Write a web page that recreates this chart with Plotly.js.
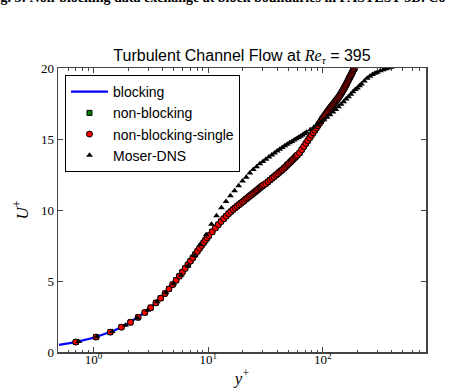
<!DOCTYPE html>
<html>
<head>
<meta charset="utf-8">
<script src="https://cdn.plot.ly/plotly-3.0.1.min.js"></script>
<style>html,body{margin:0;padding:0;background:#fff;}#chart{width:474px;height:388px;}</style>
</head>
<body>
<div id="chart"></div>
<script>
// ---- Data ----
// Simulation (non-blocking and non-blocking-single overlap exactly)
const simYPlus = [0.7,1.05,1.4,1.75,2.1,2.45,2.8,3.15,3.5,3.85,4.2,4.55,4.9,5.25,5.6,5.95,6.3,6.65,7.0,7.35,7.7,8.05,8.4,8.75,9.1,9.45,9.8,10.15,
10.85,11.55,12.25,12.95,13.65,14.35,15.05,15.75,16.45,17.15,17.85,18.55,19.25,19.95,20.65,21.35,22.05,22.75,23.45,24.15,24.85,25.55,26.25,26.95,27.65,28.35,29.05,29.75,30.45,
31.85,33.25,34.65,36.05,37.45,38.85,40.25,41.65,43.05,44.45,45.85,47.25,48.65,50.05,51.45,52.85,54.25,55.65,57.05,58.45,59.85,
62.65,65.45,68.25,71.05,73.85,76.65,79.45,82.25,85.05,87.85,90.65,93.45,96.25,99.05,
101.15,103.25,105.35,107.45,109.55,111.65,113.75,115.85,117.95,120.05,122.15,124.25,126.35,128.45,130.55,132.65,134.75,136.85,138.95,141.05,143.15,145.25,147.35,149.45,151.55,153.65,155.75,157.85,159.95,162.05,164.15,166.25,168.35,170.45,172.55,174.65,176.75,178.85,180.95,183.05,185.15,187.25,189.35,191.45,193.55,195.65,197.75,199.85];
const nonBlockingU = [0.70,1.05,1.40,1.75,2.09,2.44,2.78,3.12,3.46,3.79,4.12,4.44,4.75,5.05,5.34,5.62,5.89,6.15,6.40,6.64,6.87,7.09,7.30,7.50,7.69,7.87,8.04,8.20,
8.47,8.73,8.97,9.19,9.39,9.57,9.74,9.89,10.03,10.15,10.26,10.37,10.47,10.57,10.67,10.77,10.86,10.95,11.03,11.11,11.19,11.27,11.35,11.42,11.50,11.57,11.64,11.70,11.77,
11.86,11.99,12.11,12.23,12.34,12.45,12.55,12.65,12.75,12.84,12.94,13.04,13.15,13.24,13.34,13.43,13.52,13.61,13.70,13.78,13.87,
14.02,14.25,14.47,14.68,14.88,15.07,15.26,15.44,15.61,15.78,15.95,16.10,16.26,16.41,
16.51,16.61,16.71,16.81,16.91,17.00,17.09,17.17,17.25,17.33,17.41,17.48,17.56,17.63,17.70,17.77,17.84,17.91,17.99,18.07,18.16,18.24,18.33,18.41,18.50,18.58,18.67,18.75,18.84,18.93,19.03,19.12,19.21,19.29,19.37,19.45,19.53,19.61,19.70,19.78,19.87,19.95,20.04,20.12,20.21,20.29,20.38,20.46];
const nonBlockingSingleU = nonBlockingU; // identical to non-blocking in the picture

// Blocking (line)
const blockingYPlus = [0.5,0.7,1,1.5,2,3,4,5,6,7,8,9,10,12,14,16,18,20,23,26,30,35,40,46,52,58,63,70,77,85,93,100,110,120,130,140,150,160,170,180,190,200];
const blockingU = [0.5,0.70,1.0,1.5,1.99,2.97,3.93,4.85,5.66,6.40,7.06,7.63,8.13,8.89,9.48,9.94,10.28,10.58,10.98,11.32,11.73,12.17,12.53,12.95,13.38,13.76,14.05,14.61,15.09,15.55,16.0,16.38,16.85,17.25,17.6,17.95,18.35,18.75,19.17,19.57,19.97,20.37];

// Moser DNS
const dnsYPlus = [0.743,1.07,1.456,1.90,2.41,2.97,3.59,4.28,5.01,5.81,6.67,7.59,8.56,9.60,10.69,11.83,13.05,14.31,15.63,17.00,18.44,19.94,21.49,23.09,24.76,26.48,28.25,30.07,31.95,33.88,35.87,37.9,39.99,42.13,44.33,46.6,
48.96,51.31,53.73,56.2,58.71,61.28,63.91,66.57,69.29,72.06,77.73,83.6,89.66,95.9,102.3,108.9,115.7,122.6,129.7,137.0,144.4,152.0,159.7,167.6,175.5,183.7,191.9,200.3,208.8,217.4,230.5,243.8,257.4,271.1,285.0,299.0,317.9,337.0,356.3,375.6,395.0];
const dnsU = [0.74,1.07,1.45,1.89,2.39,2.94,3.53,4.18,4.80,5.40,6.05,6.80,7.55,8.25,9.00,9.60,10.15,10.60,11.00,11.35,11.70,12.05,12.30,12.60,12.85,13.05,13.25,13.42,13.58,13.73,13.88,14.02,14.15,14.28,14.41,14.53,
14.63,14.73,14.83,14.93,15.02,15.11,15.20,15.29,15.38,15.47,15.65,15.83,16.00,16.18,16.35,16.53,16.71,16.90,17.08,17.27,17.45,17.63,17.81,17.98,18.15,18.32,18.48,18.60,18.75,18.88,19.08,19.27,19.42,19.54,19.63,19.70,19.80,19.88,19.95,20.00,20.05];

const xTickVals = [1, 10, 100];
const xTickText = ['10<sup>0</sup>', '10<sup>1</sup>', '10<sup>2</sup>'];
const xMinorVals = [0.6,0.7,0.8,0.9,2,3,4,5,6,7,8,9,20,30,40,50,60,70,80,90,200,300,400,500,600,700];
const yTickVals = [0, 5, 10, 15, 20];

// ---- Chart ----
const traces = [
  {name: 'blocking', x: blockingYPlus, y: blockingU, type: 'scatter', mode: 'lines',
   line: {color: '#0000ff', width: 2.2}},
  {name: 'non-blocking', x: simYPlus, y: nonBlockingU, type: 'scatter', mode: 'markers',
   marker: {symbol: 'square', color: '#008000', size: 5, line: {color: '#000', width: 1}}},
  {name: 'non-blocking-single', x: simYPlus, y: nonBlockingSingleU, type: 'scatter', mode: 'markers',
   marker: {symbol: 'circle', color: '#ff0000', size: 6, line: {color: '#000', width: 1}}},
  {name: 'Moser-DNS', x: dnsYPlus, y: dnsU, type: 'scatter', mode: 'markers',
   marker: {symbol: 'triangle-up', color: '#000', size: 6, line: {color: '#000', width: 0}}}
];

const axisFont = {family: 'Liberation Serif, serif', size: 13, color: '#000'};
const layout = {
  width: 474, height: 388,
  margin: {l: 58, r: 48, t: 68, b: 36, pad: 0},
  paper_bgcolor: '#fff', plot_bgcolor: '#fff',
  showlegend: true,
  title: {
    text: 'Turbulent Channel Flow at <span style="font-family:Liberation Serif;font-style:italic">Re<sub>τ</sub></span> = 395',
    font: {family: 'Liberation Sans, Arial, sans-serif', size: 16, color: '#000'},
    xref: 'paper', x: 0.5, xanchor: 'center',
    yref: 'container', y: 1 - 55/388, yanchor: 'middle'
  },
  xaxis: {
    type: 'log', range: [-0.31, 2.9],
    tickvals: xTickVals, ticktext: xTickText,
    ticks: 'inside', ticklen: 5, tickwidth: 1, tickcolor: '#444',
    ticklabelstandoff: -5,
    minor: {tickvals: xMinorVals, ticks: 'inside', ticklen: 2.5, tickcolor: '#444', tickwidth: 1, showgrid: false},
    showline: true, linecolor: '#444', linewidth: 1.5, mirror: 'allticks',
    showgrid: false, zeroline: false,
    tickfont: axisFont,
    title: {text: '<i>y</i><sup>+</sup>', font: {family: 'Liberation Serif, serif', size: 17, color: '#000'}, standoff: 6}
  },
  yaxis: {
    range: [0, 20], tickvals: yTickVals,
    ticks: 'inside', ticklen: 5, tickwidth: 1, tickcolor: '#444',
    showline: true, linecolor: '#444', linewidth: 1.5, mirror: 'allticks',
    showgrid: false, zeroline: false,
    tickfont: axisFont,
    title: {text: '<i>U</i><sup>+</sup>', font: {family: 'Liberation Serif, serif', size: 17, color: '#000'}, standoff: 8}
  },
  legend: {
    x: 0.019, y: 0.975, xanchor: 'left', yanchor: 'top',
    bgcolor: '#fff', bordercolor: '#000', borderwidth: 1,
    font: {family: 'Liberation Sans, Arial, sans-serif', size: 14, color: '#000'},
    itemwidth: 37, tracegroupgap: 0
  },
  annotations: [{
    text: '<b>Fig. 3: Non-blocking data exchange at block boundaries in FASTEST-3D. Co</b>',
    xref: 'paper', yref: 'paper', x: (-14 - 58) / 368, y: (352 - 7) / 284,
    xanchor: 'left', yanchor: 'bottom', showarrow: false,
    font: {family: 'Liberation Serif, serif', size: 14, color: '#000'}
  }]
};

Plotly.newPlot('chart', traces, layout, {displayModeBar: false, staticPlot: true});
</script>
</body>
</html>
